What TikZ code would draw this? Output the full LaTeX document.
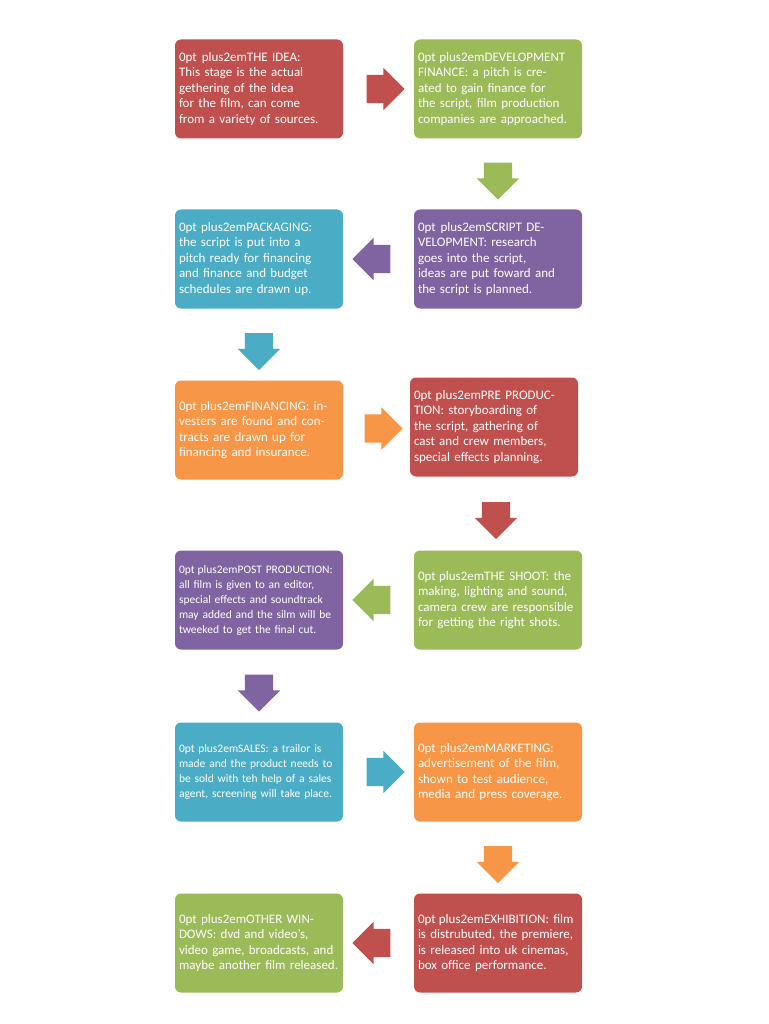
\documentclass[tikz,border=0pt]{standalone}
\usepackage{fontspec}
\setmainfont{Carlito}
\usetikzlibrary{shapes.arrows,calc}
\definecolor{cred}{HTML}{C0504D}
\definecolor{cgreen}{HTML}{9BBB59}
\definecolor{cpurple}{HTML}{8064A2}
\definecolor{cblue}{HTML}{4BACC6}
\definecolor{corange}{HTML}{F79646}
\tikzset{
 box/.style={rectangle,rounded corners=6pt,minimum width=168pt,minimum height=99pt,text width=160pt,align=center,text=white,font=\fontsize{13}{15.5}\selectfont\hyphenpenalty=10000,inner sep=4pt},
 barrow/.style={single arrow,minimum height=38pt,single arrow head extend=7pt,single arrow tip angle=90},
 rarr/.style={barrow,inner xsep=0pt,inner ysep=14pt},
 larr/.style={barrow,inner xsep=0pt,inner ysep=14pt,shape border rotate=180},
 darr/.style={barrow,inner ysep=0pt,inner xsep=14pt,shape border rotate=270,minimum height=37pt},
}
\begin{document}
\begin{tikzpicture}[x=1pt,y=-1pt]
\useasboundingbox[fill=white] (0,0) rectangle (768,1024);
\node[box,fill=cred] (idea) at (259,89) {THE IDEA: This stage is the actual gethering of the idea for the film, can come from a variety of sources.};
\node[box,fill=cgreen] (dev) at (498,89) {DEVELOPMENT FINANCE: a pitch is created to gain finance for the script, film production companies are approached.};
\node[box,fill=cblue] (pack) at (259,259) {PACKAGING: the script is put into a pitch ready for financing and finance and budget schedules are drawn up.};
\node[box,fill=cpurple] (script) at (498,259) {SCRIPT DEVELOPMENT: research goes into the script, ideas are put foward and the script is planned.};
\node[box,fill=corange] (fin) at (259,430) {FINANCING: investers are found and contracts are drawn up for financing and insurance.};
\node[box,fill=cred] (pre) at (494,427) {PRE PRODUCTION: storyboarding of the script, gathering of cast and crew members, special effects planning.};
\node[box,fill=cpurple,font=\fontsize{11.5}{15}\selectfont\hyphenpenalty=10000] (post) at (259,600) {POST PRODUCTION: all film is given to an editor, special effects and soundtrack may added and the silm will be tweeked to get the final cut.};
\node[box,fill=cgreen] (shoot) at (498,600) {THE SHOOT: the making, lighting and sound, camera crew are responsible for getting the right shots.};
\node[box,fill=cblue,font=\fontsize{11.5}{15}\selectfont\hyphenpenalty=10000] (sales) at (259,772) {SALES: a trailor is made and the product needs to be sold with teh help of a sales agent, screening will take place.};
\node[box,fill=corange] (mark) at (498,772) {MARKETING:\\ advertisement of the film, shown to test audience, media and press coverage.};
\node[box,fill=cgreen] (other) at (259,943) {OTHER WINDOWS: dvd and video's, video game, broadcasts, and maybe another film released.};
\node[box,fill=cred] (exh) at (498,943) {EXHIBITION: film is distrubuted, the premiere, is released into uk cinemas, box office performance.};
% block arrows
\node[rarr,fill=cred] (a1) at ($(idea.east)!0.5!(dev.west)$) {};
\node[darr,fill=cgreen] (a2) at ($(dev.south)!0.5!(script.north)$) {};
\node[larr,fill=cpurple] (a3) at ($(script.west)!0.5!(pack.east)$) {};
\node[darr,fill=cblue] (a4) at ($(pack.south)!0.5!(fin.north)$) {};
\node[rarr,fill=corange] (a5) at ($(fin.east)!0.5!(pre.west)$) {};
\node[darr,fill=cred] (a6) at ($(pre.south)!0.5!(shoot.north)$) {};
\node[larr,fill=cgreen] (a7) at ($(shoot.west)!0.5!(post.east)$) {};
\node[darr,fill=cpurple] (a8) at ($(post.south)!0.5!(sales.north)$) {};
\node[rarr,fill=cblue] (a9) at ($(sales.east)!0.5!(mark.west)$) {};
\node[darr,fill=corange] (a10) at ($(mark.south)!0.5!(exh.north)$) {};
\node[larr,fill=cred] (a11) at ($(exh.west)!0.5!(other.east)$) {};
\end{tikzpicture}
\end{document}
